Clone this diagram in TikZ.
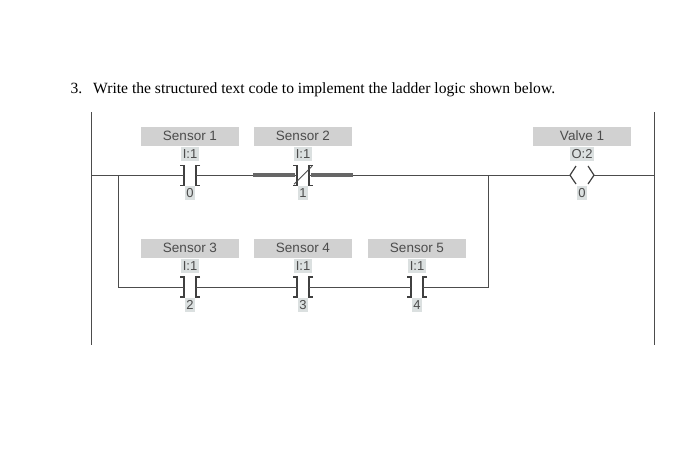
\documentclass[tikz,border=0pt]{standalone}
\usetikzlibrary{calc}
\usepackage{fontspec}
\setmainfont{Liberation Serif}
\newfontfamily\lsans{Liberation Sans}
\begin{document}
\begin{tikzpicture}[x=1pt,y=-1pt,
  wire/.style={draw=black!70,line width=1pt},
  tag/.style={fill=black!18,minimum width=98pt,minimum height=19pt,inner sep=0pt,font=\lsans\fontsize{13.5}{13.5}\selectfont,text=black!70},
  addr/.style={fill=teal!25!black!14,inner sep=1.5pt,minimum height=14pt,font=\lsans\fontsize{13}{13}\selectfont,text=black!70}]
\useasboundingbox (0,0) rectangle (700,467);
\node[anchor=west,font=\fontsize{15.6}{15.6}\selectfont] (title) at (67,90) {3.\hspace{11pt}Write the structured text code to implement the ladder logic shown below.};
\coordinate (lt) at (91,112); \coordinate (lb) at (91,345);
\coordinate (rt) at (654,112); \coordinate (rb) at (654,345);
\draw[wire] (lt) -- (lb); \draw[wire] (rt) -- (rb);
\coordinate (a1) at (91,175.2); \coordinate (b1) at (118,175.2); \coordinate (c1) at (488,175.2); \coordinate (d1) at (654,175.2);
\coordinate (b2) at (118,287); \coordinate (c2) at (488,287);
% contacts
\foreach \n/\x/\y/\lab/\num in {s1/190/175.2/Sensor 1/0, s2/303/175.2/Sensor 2/1, s3/190/287/Sensor 3/2, s4/303/287/Sensor 4/3, s5/417/287/Sensor 5/4}{
  \node[tag] (\n t) at (\x,\y-39) {\lab};
  \node[addr] (\n a) at (\x,\y-21) {I:1};
  \node[addr] (\n n) at (\x,\y+18) {\num};
  \coordinate (\n l) at (\x-6,\y); \coordinate (\n r) at (\x+6,\y);
}
\foreach \n in {s1,s2,s3,s4,s5}{
  \draw[black!75,line width=1.2pt] ($(\n l)+(-4,-10)$) -- ($(\n l)+(0,-10)$) -- ($(\n l)+(0,10)$) -- ($(\n l)+(-4,10)$);
  \draw[black!75,line width=1.2pt] ($(\n r)+(4,-10)$) -- ($(\n r)+(0,-10)$) -- ($(\n r)+(0,10)$) -- ($(\n r)+(4,10)$);
}
\draw[black!70,line width=1pt] ($(s2l)+(-3,9)$) -- ($(s2r)+(3,-9)$);
% coil
\node[tag] (vt) at (582,136) {Valve 1};
\node[addr] (va) at (582,154) {O:2};
\node[addr] (vn) at (582,193) {0};
\coordinate (vl) at (570,175.2); \coordinate (vr) at (594,175.2);
\draw[black!75,line width=1.2pt] (576,166) -- (vl) -- (576,184);
\draw[black!75,line width=1.2pt] (588,166) -- (vr) -- (588,184);
% wires
\draw[wire] (a1) -- (s1l); \draw[wire] (s1r) -- (s2l); \draw[wire] (s2r) -- (c1);
\draw[wire] (c1) -- (vl);
\draw[wire] (vr) -- (d1);
\draw[black!60,line width=4pt] (253,175.2) -- ($(s2l)+(-2,0)$);
\draw[black!60,line width=4pt] ($(s2r)+(2,0)$) -- (353,175.2);
\draw[wire] (b1) -- (b2) -- (s3l); \draw[wire] (s3r) -- (s4l); \draw[wire] (s4r) -- (s5l);
\draw[wire] (s5r) -- (c2) -- (c1);
\end{tikzpicture}
\end{document}
